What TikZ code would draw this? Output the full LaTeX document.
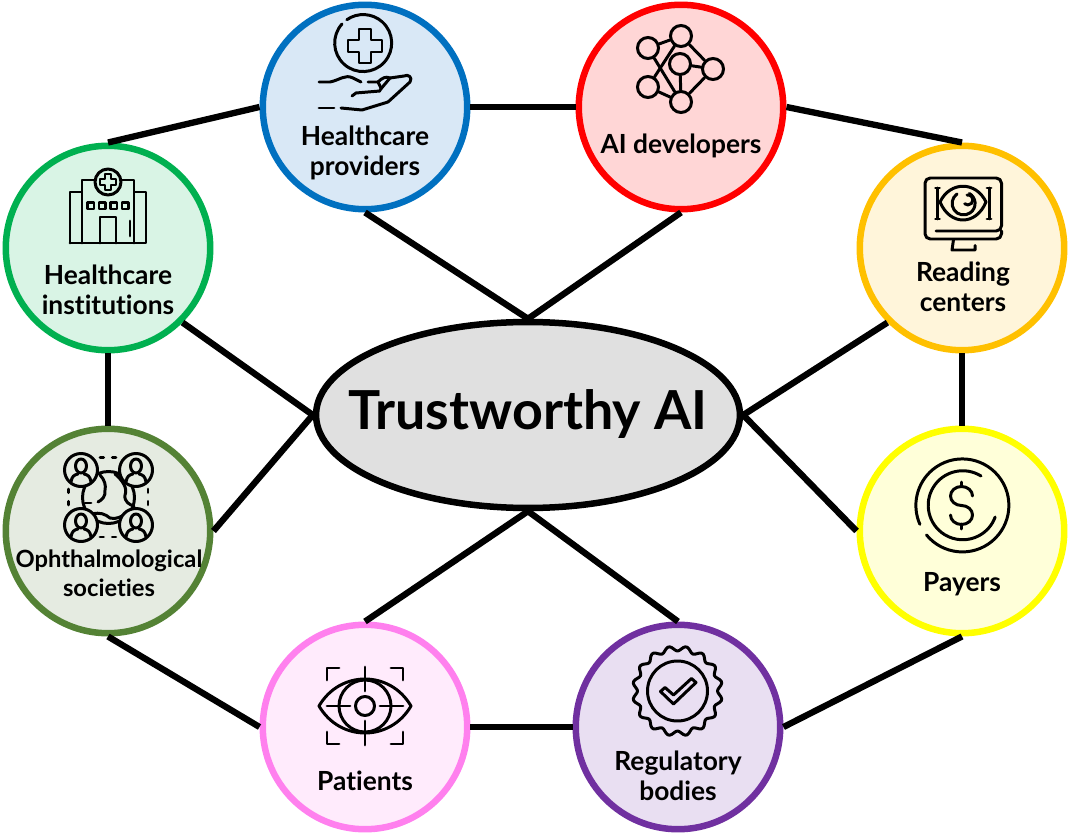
\documentclass[tikz,border=0pt]{standalone}
\usepackage{fontspec}
\setmainfont{Lato}[Ligatures=CommonOff]
\usepackage{xcolor}
\usetikzlibrary{shapes.geometric}

\definecolor{provline}{HTML}{0070C0}
\definecolor{provfill}{HTML}{D9E8F6}
\definecolor{devline}{HTML}{FF0000}
\definecolor{devfill}{HTML}{FFD6D6}
\definecolor{instline}{HTML}{00B050}
\definecolor{instfill}{HTML}{D9F4E5}
\definecolor{readline}{HTML}{FFC000}
\definecolor{readfill}{HTML}{FFF5DA}
\definecolor{socline}{HTML}{548235}
\definecolor{socfill}{HTML}{E5EBE1}
\definecolor{payline}{HTML}{FFFF00}
\definecolor{payfill}{HTML}{FFFFD9}
\definecolor{patline}{HTML}{FF80EE}
\definecolor{patfill}{HTML}{FFEBFC}
\definecolor{regline}{HTML}{7030A0}
\definecolor{regfill}{HTML}{E9DFF2}

\tikzset{
    party/.style n args={2}{circle, draw=#1, fill=#2, line width=3.7pt, minimum size=4.09cm, inner sep=0pt},
    partytext/.style={align=center, font=\fontsize{15}{17}\selectfont\bfseries, inner sep=0pt},
    link/.style={line width=3.6pt},
    icon/.style={line width=1.7pt, line cap=round, line join=round},
    dots/.style={icon, dash pattern=on 2pt off 5pt},
    netnode/.style={circle, draw, line width=1.7pt, minimum size=0.42cm, inner sep=0pt}
}

\newcommand{\personicon}[3]{%
    \begin{scope}[shift={(#1,#2)}]
        \draw[icon, fill=#3] (0,0) circle [radius=16.5];
        \draw[icon] (0,-4) ellipse [x radius=5.5, y radius=7];
        \draw[icon] (-10,12) .. controls (-9,6) and (-7,5) .. (-3,4);
        \draw[icon] (10,12) .. controls (9,6) and (7,5) .. (3,4);
    \end{scope}
}

\begin{document}
\begin{tikzpicture}[x=0.02cm, y=-0.02cm]
    \useasboundingbox (0,0) rectangle (1068,834);

    % Centre
    \node[ellipse, draw, fill=black!12, line width=3.7pt, minimum width=8.48cm, minimum height=3.72cm, inner sep=0pt] (trust) at (528,415) {};
    \node[font=\fontsize{30.6}{36}\selectfont\bfseries, inner sep=0pt] (trusttext) at (528,414) {Trustworthy AI};

    % Stakeholders
    \node[party={provline}{provfill}] (providers)    at (365,107) {};
    \node[party={devline}{devfill}]   (developers)   at (681,107) {};
    \node[party={instline}{instfill}] (institutions) at (108,248) {};
    \node[party={readline}{readfill}] (readers)      at (962,248) {};
    \node[party={socline}{socfill}]   (societies)    at (108,531) {};
    \node[party={payline}{payfill}]   (payers)       at (962,531) {};
    \node[party={patline}{patfill}]   (patients)     at (365,727) {};
    \node[party={regline}{regfill}]   (regulators)   at (678,727) {};

    % Links around the ring
    \draw[link] (institutions.north) -- (providers.west);
    \draw[link] (providers.east) -- (developers.west);
    \draw[link] (developers.east) -- (readers.north);
    \draw[link] (readers.south) -- (payers.north);
    \draw[link] (payers.south) -- (regulators.east);
    \draw[link] (regulators.west) -- (patients.east);
    \draw[link] (patients.west) -- (societies.south);
    \draw[link] (societies.north) -- (institutions.south);
    % Links to the centre
    \draw[link] (providers.south) -- (trust.north);
    \draw[link] (developers.south) -- (trust.north);
    \draw[link] (institutions.south east) -- (trust.west);
    \draw[link] (societies.east) -- (trust.west);
    \draw[link] (readers.south west) -- (trust.east);
    \draw[link] (payers.west) -- (trust.east);
    \draw[link] (patients.north) -- (trust.south);
    \draw[link] (regulators.north) -- (trust.south);

    % Labels
    \node[partytext] (providerstext)    at (365,153) {Healthcare\\providers};
    \node[partytext] (developerstext)   at (681,146) {AI developers};
    \node[partytext] (institutionstext) at (108,290) {Healthcare\\institutions};
    \node[partytext] (readerstext)      at (963,287) {Reading\\centers};
    \node[partytext, font=\fontsize{13.5}{16.6}\selectfont\bfseries] (societiestext) at (109,573) {Ophthalmological\\societies};
    \node[partytext] (payerstext)       at (962,584) {Payers};
    \node[partytext] (patientstext)     at (365,781) {Patients};
    \node[partytext] (regulatorstext)   at (678,776) {Regulatory\\bodies};

    % Icon hand and cross
    \draw[icon] (342,24) arc [start angle=222, end angle=-125, radius=28.5];
    \draw[icon] (359,29) -- (371,29) -- (371,40) -- (382,40) -- (382,52) -- (371,52) -- (371,63) -- (359,63) -- (359,52) -- (348,52) -- (348,40) -- (359,40) -- cycle;
    \draw[icon] (319,82) -- (330,82) .. controls (340,80) and (345,74) .. (353,78) -- (361,82);
    \draw[icon] (368,82) -- (378,82) -- (381,88);
    \draw[icon] (378,82) .. controls (382,78) and (386,76) .. (390,78) -- (380,90);
    \draw[icon] (390,78) -- (404,76) .. controls (408,74) and (413,77) .. (410,82) -- (388,102) -- (362,110) -- (341,108);
    \draw[icon] (319,108) -- (334,108);
    \draw[icon] (352,96) -- (356,93) -- (380,91);

    % Icon network
    \foreach \name/\px/\py in {na/648/48, nb/681/36, nc/680/64, nd/713/69, ne/648/87, nf/681/102}
        \node[netnode] (\name) at (\px,\py) {};
    \foreach \from/\to in {na/nb, nb/nd, nc/nd, nc/nf, nd/nf, ne/nf, na/nf, nb/ne}
        \draw[icon] (\from) -- (\to);

    % Icon hospital
    \draw[icon] (70,243) -- (146,243) -- (146,192) -- (134,192) -- (134,180) -- (121,180);
    \draw[icon] (70,243) -- (70,192) -- (82,192) -- (82,180) -- (94,180);
    \draw[icon] (82,192) -- (82,243) (134,192) -- (134,243);
    \draw[icon] (108,182) circle [radius=13];
    \draw[icon] (105,174) -- (111,174) -- (111,179) -- (116,179) -- (116,185) -- (111,185) -- (111,190) -- (105,190) -- (105,185) -- (100,185) -- (100,179) -- (105,179) -- cycle;
    \foreach \wx in {87.5,99,110.5,122}
        \draw[icon] (\wx,202.5) rectangle ++(6.5,6.5);
    \draw[icon] (100,243) -- (100,217) -- (116,217) -- (116,243);
    \draw[icon] (130,221) -- (130,236);

    % Icon globe and people
    \draw[icon] (108.5,497.5) circle [radius=26];
    \draw[icon] (100,475) .. controls (105,480) and (106,486) .. (105,490) .. controls (106,496) and (102,500) .. (98,502);
    \draw[icon] (91,503) -- (85,503);
    \draw[icon] (115,474) .. controls (122,480) and (128,488) .. (125,495) .. controls (124,502) and (130,505) .. (134,506);
    \draw[icon] (92,514) .. controls (100,512) and (105,514) .. (110,518) .. controls (116,520) and (122,516) .. (126,514);
    \personicon{81}{470}{socfill}
    \personicon{136}{470}{socfill}
    \personicon{81}{525}{socfill}
    \personicon{136}{525}{socfill}
    \draw[dots] (100,457.5) -- (118,457.5);
    \draw[dots] (100,537) -- (118,537);
    \draw[dots] (68.5,489) -- (68.5,506);
    \draw[dots] (148,489) -- (148,506);

    % Icon monitor
    \draw[icon, rounded corners=3] (936,231) -- (1001.5,231) -- (1001.5,178) -- (925,178) -- (925,239) -- (1001.5,239) -- (1001.5,231);
    \draw[icon] (953.5,239.5) -- (952,250) -- (975,250) -- (975,245.5);
    \draw[icon] (940,202) .. controls (950,181) and (976,181) .. (986,202) .. controls (976,226) and (950,226) .. (940,202);
    \draw[icon] (937.5,188) -- (937.5,219) (989,188) -- (989,219);
    \draw[icon] (935.5,188) -- (939.5,188) (935.5,219) -- (939.5,219) (987,188) -- (991,188) (987,219) -- (991,219);
    \draw[icon] (957,194) arc [start angle=235, end angle=-60, radius=11.5];
    \draw[icon] (967,195) arc [start angle=-100, end angle=0, radius=5] arc [start angle=0, end angle=130, radius=5];

    % Icon coin
    \draw[icon] (926.5,535) arc [start angle=140.5, end angle=-204, radius=46.5];
    \draw[icon] (981,476) arc [start angle=-58, end angle=-340, radius=34.5];
    \draw[icon] (972.5,496) arc [start angle=0, end angle=-270, x radius=11, y radius=9.5] arc [start angle=-90, end angle=180, x radius=11, y radius=9.5];
    \draw[icon] (961.5,482) -- (961.5,486.5) (961.5,524) -- (961.5,529);

    % Icon eye and target
    \draw[icon] (319,706) .. controls (340,670) and (390,670) .. (411,706) .. controls (390,742) and (340,742) .. (319,706) -- cycle;
    \draw[icon] (365,706) circle [radius=26];
    \draw[icon] (365,706) circle [radius=9.5];
    \draw[icon] (365,667) -- (365,691) (365,721) -- (365,745);
    \draw[icon] (327,706) -- (350,706) (380,706) -- (403,706);
    \draw[icon] (327,680) -- (327,668) -- (339,668);
    \draw[icon] (403,680) -- (403,668) -- (391,668);
    \draw[icon] (327,732) -- (327,744) -- (339,744);
    \draw[icon] (403,732) -- (403,744) -- (391,744);

    % Icon seal
    \draw[icon] plot[domain=0:360, samples=145, smooth] ({677.5+(42.5-2.5*cos(16*\x))*cos(\x)}, {691+(42.5-2.5*cos(16*\x))*sin(\x)}) -- cycle;
    \draw[icon] (677.5,691) circle [radius=30];
    \draw[icon] (660.5,691.5) -- (665,687.5) -- (673.5,695) -- (691.5,678.5) -- (696,682.5) -- (673.5,704) -- cycle;
\end{tikzpicture}
\end{document}
